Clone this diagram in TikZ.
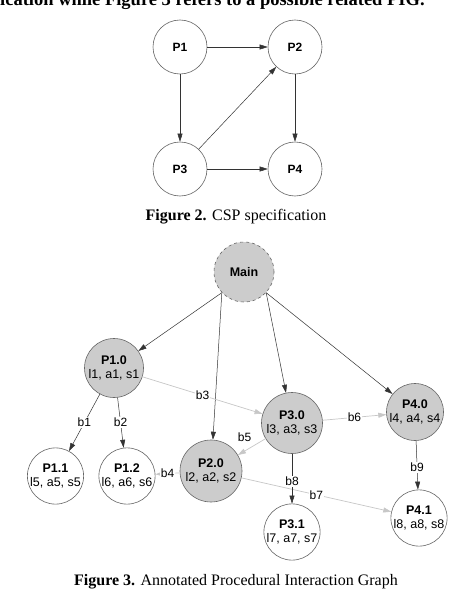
\documentclass[tikz,border=0pt]{standalone}
\usepackage{fontspec}
\setmainfont{Liberation Serif}
\newfontfamily\arial{Liberation Sans}
\usetikzlibrary{arrows.meta}
\begin{document}
\begin{tikzpicture}[x=1pt,y=-1pt,
 proc/.style={circle,draw=black!60,line width=0.6pt,inner sep=0pt,minimum size=54pt,font=\arial\fontsize{12}{14}\selectfont\bfseries},
 pig/.style={circle,draw=black!60,line width=0.6pt,inner sep=0pt,minimum size=56pt,align=center,font=\arial\fontsize{12.5}{14}\selectfont},
 shaded/.style={pig,fill=black!20,minimum size=59pt},
 dark/.style={draw=black!80,line width=0.5pt,-{Triangle[length=8pt,width=5pt]}},
 light/.style={draw=black!22,line width=0.7pt,-{Triangle[length=8pt,width=5pt]}},
 lbl/.style={fill=white,inner sep=1pt,font=\arial\fontsize{12}{13}\selectfont},
 captext/.style={font=\fontsize{16}{18}\selectfont,inner sep=0pt}]
\useasboundingbox (0,0) rectangle (474,594);
\fill[white] (0,0) rectangle (474,594);
% clipped running text at the top
\node[captext,anchor=base west,font=\bfseries\fontsize{18.5}{20}\selectfont] (toptext) at (0,6) {ication while Figure 3 refers to a possible related PIG.};
% Figure 2
\node[proc] (P1) at (180,47) {P1};
\node[proc] (P2) at (295,47) {P2};
\node[proc] (P3) at (180,169) {P3};
\node[proc] (P4) at (295,169) {P4};
\draw[dark] (P1) -- (P2);
\draw[dark] (P1) -- (P3);
\draw[dark] (P2) -- (P4);
\draw[dark] (P3) -- (P4);
\draw[dark] (P3) -- (P2);
\node[captext,anchor=base] (cap2) at (236,220) {\textbf{Figure 2.} CSP specification};
% Figure 3
\node[shaded,dashed,minimum size=60pt] (Main) at (244,272) {\textbf{Main}};
\node[shaded] (P10) at (114,368) {\textbf{P1.0}\\l1, a1, s1};
\node[shaded,minimum size=61pt] (P30) at (292,423) {\textbf{P3.0}\\l3, a3, s3};
\node[shaded,minimum size=57pt] (P40) at (415,412) {\textbf{P4.0}\\l4, a4, s4};
\node[shaded,minimum size=62pt] (P20) at (211,471) {\textbf{P2.0}\\l2, a2, s2};
\node[pig] (P11) at (55.5,476) {\textbf{P1.1}\\l5, a5, s5};
\node[pig] (P12) at (127,476) {\textbf{P1.2}\\l6, a6, s6};
\node[pig] (P31) at (292,532) {\textbf{P3.1}\\l7, a7, s7};
\node[pig] (P41) at (419,518) {\textbf{P4.1}\\l8, a8, s8};
\draw[dark] (Main.223) -- (P10);
\draw[dark] (Main.223) -- (P20);
\draw[dark] (Main.317) -- (P30);
\draw[dark] (Main.317) -- (P40);
\draw[dark] (P10) -- node[lbl,pos=0.5]{b1} (P11);
\draw[dark] (P10) -- node[lbl,pos=0.5]{b2} (P12);
\draw[light] (P10) -- node[lbl,pos=0.5]{b3} (P30);
\draw[light] (P20) -- node[lbl,pos=0.5]{b4} (P12);
\draw[light] (P30) -- node[lbl,pos=0.65,yshift=12pt,xshift=-3pt]{b5} (P20);
\draw[light] (P30) -- node[lbl,pos=0.5]{b6} (P40);
\draw[light] (P20) -- node[lbl,pos=0.5]{b7} (P41);
\draw[dark] (P30) -- node[lbl,pos=0.55]{b8} (P31);
\draw[dark] (P40) -- node[lbl,pos=0.55]{b9} (P41);
\node[captext,anchor=base] (cap3) at (236,585) {\textbf{Figure 3.} Annotated Procedural Interaction Graph};
\end{tikzpicture}
\end{document}
